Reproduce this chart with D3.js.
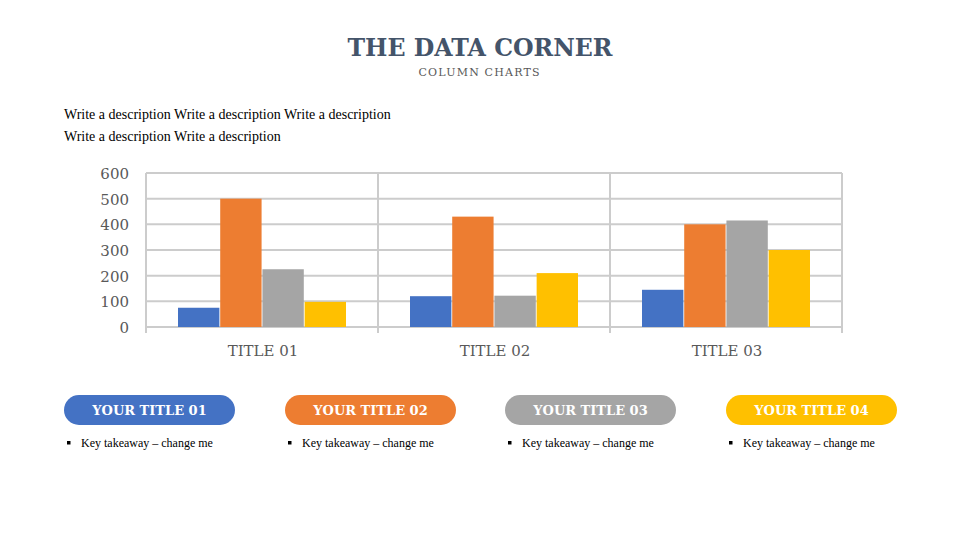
<!DOCTYPE html>
<html>
<head>
<meta charset="utf-8">
<script src="https://cdn.jsdelivr.net/npm/d3@7"></script>
<style>
  body { margin: 0; background: #fff; }
  svg { display: block; }
</style>
</head>
<body>
<div id="chart"></div>
<script>
// chart data
var categories = ["TITLE 01", "TITLE 02", "TITLE 03"];
var seriesNames = ["Series 1", "Series 2", "Series 3", "Series 4"];
var series1 = [75, 120, 145];
var series2 = [500, 430, 400];
var series3 = [225, 122, 415];
var series4 = [98, 210, 300];
var yTicks = [0, 100, 200, 300, 400, 500, 600];
var cardTitles = ["YOUR TITLE 01", "YOUR TITLE 02", "YOUR TITLE 03", "YOUR TITLE 04"];
var takeaways = ["Key takeaway \u2013 change me", "Key takeaway \u2013 change me", "Key takeaway \u2013 change me", "Key takeaway \u2013 change me"];

var colors = ["#4472c4", "#ed7d31", "#a5a5a5", "#ffc000"];
var serif = "'DejaVu Serif', serif";
var times = "'Liberation Serif', 'Times New Roman', serif";

var W = 960, H = 540;
var svg = d3.select("#chart").append("svg")
  .attr("width", W).attr("height", H);

// header
svg.append("text")
  .attr("x", 480).attr("y", 56)
  .attr("text-anchor", "middle")
  .attr("textLength", 265).attr("lengthAdjust", "spacingAndGlyphs")
  .style("font-family", serif).style("font-weight", "bold")
  .style("font-size", "25px").style("fill", "#44546a")
  .text("THE DATA CORNER");
svg.append("text")
  .attr("x", 479).attr("y", 76)
  .attr("text-anchor", "middle")
  .attr("textLength", 121)
  .style("font-family", serif).style("font-size", "11px")
  .style("fill", "#595959")
  .text("COLUMN CHARTS");

// description
var desc = ["Write a description Write a description Write a description",
            "Write a description Write a description"];
svg.selectAll(".desc").data(desc).enter().append("text")
  .attr("class", "desc")
  .attr("x", 64)
  .attr("y", function(d, i) { return 119 + i * 22; })
  .style("font-family", times).style("font-size", "14px")
  .style("fill", "#000")
  .text(function(d) { return d; });

// scales
var x0 = d3.scaleBand().domain(categories).range([146, 842]).padding(0);
var x1 = d3.scaleBand().domain(seriesNames)
  .range([32, x0.bandwidth() - 32]).paddingInner(0.02);
var y = d3.scaleLinear().domain([0, 600]).range([327, 173]);

var data = categories.map(function(c, i) {
  return { cat: c, vals: [series1[i], series2[i], series3[i], series4[i]] };
});

// gridlines
svg.append("g").selectAll("line").data(yTicks).enter().append("line")
  .attr("x1", 146).attr("x2", 842)
  .attr("y1", function(d) { return y(d); })
  .attr("y2", function(d) { return y(d); })
  .style("stroke", "#cccccc").style("stroke-width", 2);

// vertical category lines
var vx = categories.map(function(c) { return x0(c); }).concat([842]);
svg.append("g").selectAll("line").data(vx).enter().append("line")
  .attr("x1", function(d) { return d; }).attr("x2", function(d) { return d; })
  .attr("y1", 173).attr("y2", 333)
  .style("stroke", "#cccccc").style("stroke-width", 2);

// bars
var groups = svg.append("g").selectAll("g").data(data).enter().append("g")
  .attr("transform", function(d) { return "translate(" + x0(d.cat) + ",0)"; });
groups.selectAll("rect")
  .data(function(d) { return d.vals.map(function(v, i) { return { s: seriesNames[i], v: v, i: i }; }); })
  .enter().append("rect")
  .attr("x", function(d) { return x1(d.s); })
  .attr("width", x1.bandwidth())
  .attr("y", function(d) { return y(d.v); })
  .attr("height", function(d) { return y(0) - y(d.v); })
  .style("fill", function(d) { return colors[d.i]; });

// y axis labels
svg.append("g").selectAll("text").data(yTicks).enter().append("text")
  .attr("x", 129)
  .attr("y", function(d) { return y(d) + 6; })
  .attr("text-anchor", "end")
  .style("font-family", serif).style("font-size", "15px")
  .style("fill", "#595959")
  .text(function(d) { return d; });

// category labels
svg.append("g").selectAll("text").data(categories).enter().append("text")
  .attr("x", function(d) { return x0(d) + x0.bandwidth() / 2 + 1; })
  .attr("y", 356)
  .attr("text-anchor", "middle")
  .style("font-family", serif).style("font-size", "15px")
  .style("fill", "#595959")
  .text(function(d) { return d; });

// cards
var cardX = [64, 285, 505, 726];
var cards = svg.append("g").selectAll("g").data(cardTitles).enter().append("g")
  .attr("transform", function(d, i) { return "translate(" + cardX[i] + ",395)"; });
cards.append("rect")
  .attr("width", 171).attr("height", 30)
  .attr("rx", 15).attr("ry", 15)
  .style("fill", function(d, i) { return colors[i]; });
cards.append("text")
  .attr("x", 85.5).attr("y", 20)
  .attr("text-anchor", "middle")
  .style("font-family", serif).style("font-weight", "bold")
  .style("font-size", "13px").style("fill", "#fff")
  .text(function(d) { return d; });
cards.append("rect")
  .attr("x", 3).attr("y", 46).attr("width", 3.5).attr("height", 3.5)
  .style("fill", "#000");
cards.append("text")
  .attr("x", 17).attr("y", 52)
  .style("font-family", times).style("font-size", "12px")
  .style("fill", "#000")
  .text(function(d, i) { return takeaways[i]; });
</script>
</body>
</html>
